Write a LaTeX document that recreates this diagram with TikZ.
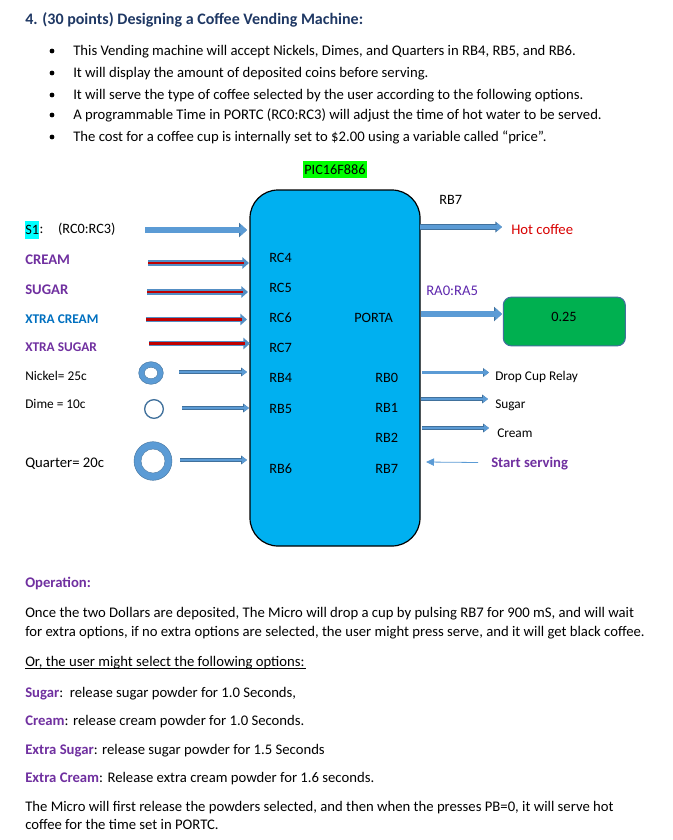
\documentclass[tikz,border=0pt]{standalone}
\usepackage{fontspec}
\setmainfont{Carlito}
\usetikzlibrary{arrows.meta,shapes.geometric}
\definecolor{chip}{HTML}{00B0F0}
\definecolor{blu}{HTML}{5B9BD5}
\definecolor{edge}{HTML}{41719C}
\definecolor{grn}{HTML}{00B050}
\definecolor{pur}{HTML}{7030A0}
\definecolor{lnk}{HTML}{0070C0}
\definecolor{redd}{HTML}{C00000}
\definecolor{navy}{HTML}{1F3864}
\definecolor{hlcyan}{HTML}{00FFFF}
\definecolor{hlgreen}{HTML}{00FF00}
\tikzset{
  x=0.75pt,y=-0.75pt,
  txt/.style={anchor=west,inner sep=0pt,yshift=-1.5pt,font=\fontsize{11.02}{13}\selectfont,text height=7.5pt,text depth=2pt},
  small/.style={txt,yshift=.75pt,font=\fontsize{10}{12}\selectfont},
  pin/.style={txt,font=\fontsize{10.7}{12}\selectfont},
  bigarrow/.style={line width=4.2pt,draw=blu,preaction={draw=edge,line width=5pt,-{Triangle[length=6pt,width=10.5pt]}},-{Triangle[length=5pt,width=8.8pt]}},
  midarrow/.style={line width=3pt,draw=blu,preaction={draw=edge,line width=3.8pt,-{Triangle[length=5pt,width=8pt]}},-{Triangle[length=4.1pt,width=6.5pt]}},
  redarrow/.style={line width=2.2pt,draw=redd,shorten >=4pt,preaction={draw=blu!70!edge,line width=3.9pt,shorten >=0pt,-{Triangle[length=5pt,width=8.5pt]}}},
  thinarrow/.style={line width=1.9pt,draw=blu,preaction={draw=edge,line width=2.7pt,-{Triangle[length=4.5pt,width=6.5pt]}},-{Triangle[length=3.6pt,width=5pt]}},
  backarrow/.style={line width=.6pt,draw=blu,-{Triangle[length=6pt,width=5.5pt]}},
  ringcoin/.style={ellipse,draw=edge,line width=.3pt,fill=blu,inner sep=0pt},
  hole/.style={ellipse,draw=edge,line width=.3pt,fill=white,inner sep=0pt},
}
\begin{document}
\begin{tikzpicture}
\useasboundingbox (0,0) rectangle (673,840);
\fill[white] (0,0) rectangle (673,840);
% heading and bullets
\node[txt,text=navy,font=\fontsize{12}{14}\selectfont] (title) at (25,19) {\textbf{4. (30 points) Designing a Coffee Vending Machine:}};
\foreach \n/\y/\t in {
 a/50/{This Vending machine will accept Nickels, Dimes, and Quarters in RB4, RB5, and RB6.},
 b/72/{It will display the amount of deposited coins before serving.},
 c/94/{It will serve the type of coffee selected by the user according to the following options.},
 d/114/{A programmable Time in PORTC (RC0:RC3) will adjust the time of hot water to be served.},
 e/136/{The cost for a coffee cup is internally set to \$2.00 using a variable called “price”.}}{
  \node[txt] (bul\n) at (73,\y) {\t};
  \fill (52,\y+1) circle (2.4);
}
\node[fill=hlgreen,text=black,inner sep=0pt,minimum width=48pt,minimum height=12.8pt,font=\fontsize{10.7}{12}\selectfont] (pic) at (335,169.5) {PIC16F886};
% chip
\node[draw=black,fill=chip,line width=.9pt,rounded corners=21pt,minimum width=127.5pt,minimum height=267pt,inner sep=0pt] (mcu) at (335,368) {};
% pins
\foreach \n/\x/\y/\t in {rc4/269/257/RC4,rc5/269/287/RC5,rc6/269/317/RC6,rc7/269/347/RC7,rb4/269/377/RB4,rb5/269/408/RB5,rb6/269/468/RB6,
  porta/354/317/PORTA,rb0/375/377/RB0,rb1/375/407/RB1,rb2/375/437/RB2,rb7/375/468/RB7,rb7top/439/199/RB7}{
  \node[pin] (\n) at (\x,\y) {\t};
}
% left labels
\node[anchor=west,fill=hlcyan,text=black,inner sep=0pt,minimum height=12.8pt,font=\fontsize{10.7}{12}\selectfont] (s1h) at (25,230) {S1};
\node[pin,yshift=1.5pt] (s1) at (s1h.east) {:\hspace{11pt}(RC0:RC3)};
\node[txt,text=pur] (cream) at (25,259) {\textbf{CREAM}};
\node[txt,text=pur] (sugar) at (25,289) {\textbf{SUGAR}};
\node[small,text=lnk] (xcream) at (25,319) {\textbf{XTRA CREAM}};
\node[small,text=pur] (xsugar) at (25,347) {\textbf{XTRA SUGAR}};
\node[small] (nick) at (25,376) {Nickel= 25c};
\node[small] (dime) at (25,404) {Dime = 10c};
\node[txt] (quart) at (25,462) {Quarter= 20c};
% coins
\node[ringcoin,minimum width=18.5pt,minimum height=17pt] (coinN) at (151,373) {};
\node[hole,minimum width=10pt,minimum height=8.5pt] (holeN) at (151,373) {};
\node[hole,draw=edge,line width=1pt,minimum width=14pt,minimum height=14pt] (coinD) at (154,409) {};
\node[ringcoin,minimum width=28.5pt,minimum height=29pt] (coinQ) at (153,461) {};
\node[hole,minimum width=18pt,minimum height=18pt] (holeQ) at (153,461) {};
% left arrows
\coordinate (s1a) at (145,230);  \coordinate (s1b) at (247,230);
\coordinate (c1a) at (148,263);  \coordinate (c1b) at (249,263);
\coordinate (c2a) at (147,292);  \coordinate (c2b) at (248,292);
\coordinate (c3a) at (146,319.5);\coordinate (c3b) at (247,319.5);
\coordinate (c4a) at (149,343.5);\coordinate (c4b) at (250,343.5);
\coordinate (n1a) at (179,372);  \coordinate (n1b) at (247,372);
\coordinate (d1a) at (182,408);  \coordinate (d1b) at (249,408);
\coordinate (q1a) at (180,460);  \coordinate (q1b) at (247,460);
\draw[bigarrow] (s1a) -- (s1b);
\draw[redarrow] (c1a) -- (c1b);
\draw[redarrow] (c2a) -- (c2b);
\draw[redarrow] (c3a) -- (c3b);
\draw[redarrow] (c4a) -- (c4b);
\draw[thinarrow] (n1a) -- (n1b);
\draw[thinarrow] (d1a) -- (d1b);
\draw[thinarrow] (q1a) -- (q1b);
% right side
\node[txt,text=red!85!black] (hot) at (511,229) {Hot coffee};
\node[txt,text=pur!85!blue] (ra) at (426,290) {RA0:RA5};
\node[draw=edge,fill=grn,line width=.8pt,rounded corners=6pt,minimum width=91.5pt,minimum height=36.5pt,inner sep=0pt] (disp) at (564.3,321.5) {};
\node[font=\fontsize{10.7}{12}\selectfont,inner sep=0pt] (val) at (564,317) {0.25};
\node[small] (drop) at (495,376) {Drop Cup Relay};
\node[small] (sug) at (495,404) {Sugar};
\node[small] (crm) at (497,433) {Cream};
\node[txt,text=pur] (start) at (491,462) {\textbf{Start serving}};
\coordinate (h1a) at (420,227);  \coordinate (h1b) at (502,227);
\coordinate (p1a) at (421,314);  \coordinate (p1b) at (502,314);
\coordinate (r0a) at (422,372.5);\coordinate (r0b) at (489,372.5);
\coordinate (r1a) at (421,399);  \coordinate (r1b) at (488,399);
\coordinate (r2a) at (422,428);  \coordinate (r2b) at (489,428);
\coordinate (s7a) at (478,462.5);\coordinate (s7b) at (426,462);
\draw[midarrow] (h1a) -- (h1b);
\draw[bigarrow] (p1a) -- (p1b);
\draw[thinarrow] (r0a) -- (r0b);
\draw[thinarrow] (r1a) -- (r1b);
\draw[thinarrow] (r2a) -- (r2b);
\draw[backarrow] (s7a) -- (s7b);
% operation text
\node[txt,text=pur] (op) at (25,582) {\textbf{Operation:}};
\node[txt] (p1) at (25,612) {Once the two Dollars are deposited, The Micro will drop a cup by pulsing RB7 for 900 mS, and will wait};
\node[txt] (p2) at (25,631) {for extra options, if no extra options are selected, the user might press serve, and it will get black coffee.};
\node[txt] (or) at (25,661) {Or, the user might select the following options:};
\draw[line width=.7pt] (25,668) -- (306,668);
\node[txt] (o1) at (25,692) {\textcolor{pur}{\textbf{Sugar}}:\ \ release sugar powder for 1.0 Seconds,};
\node[txt] (o2) at (25,720) {\textcolor{pur}{\textbf{Cream}}: release cream powder for 1.0 Seconds.};
\node[txt] (o3) at (25,749) {\textcolor{pur}{\textbf{Extra Sugar}}: release sugar powder for 1.5 Seconds};
\node[txt] (o4) at (25,777) {\textcolor{pur}{\textbf{Extra Cream}}: Release extra cream powder for 1.6 seconds.};
\node[txt] (e1) at (25,806) {The Micro will first release the powders selected, and then when the presses PB=0, it will serve hot};
\node[txt] (e2) at (25,824) {coffee for the time set in PORTC.};
\end{tikzpicture}
\end{document}
